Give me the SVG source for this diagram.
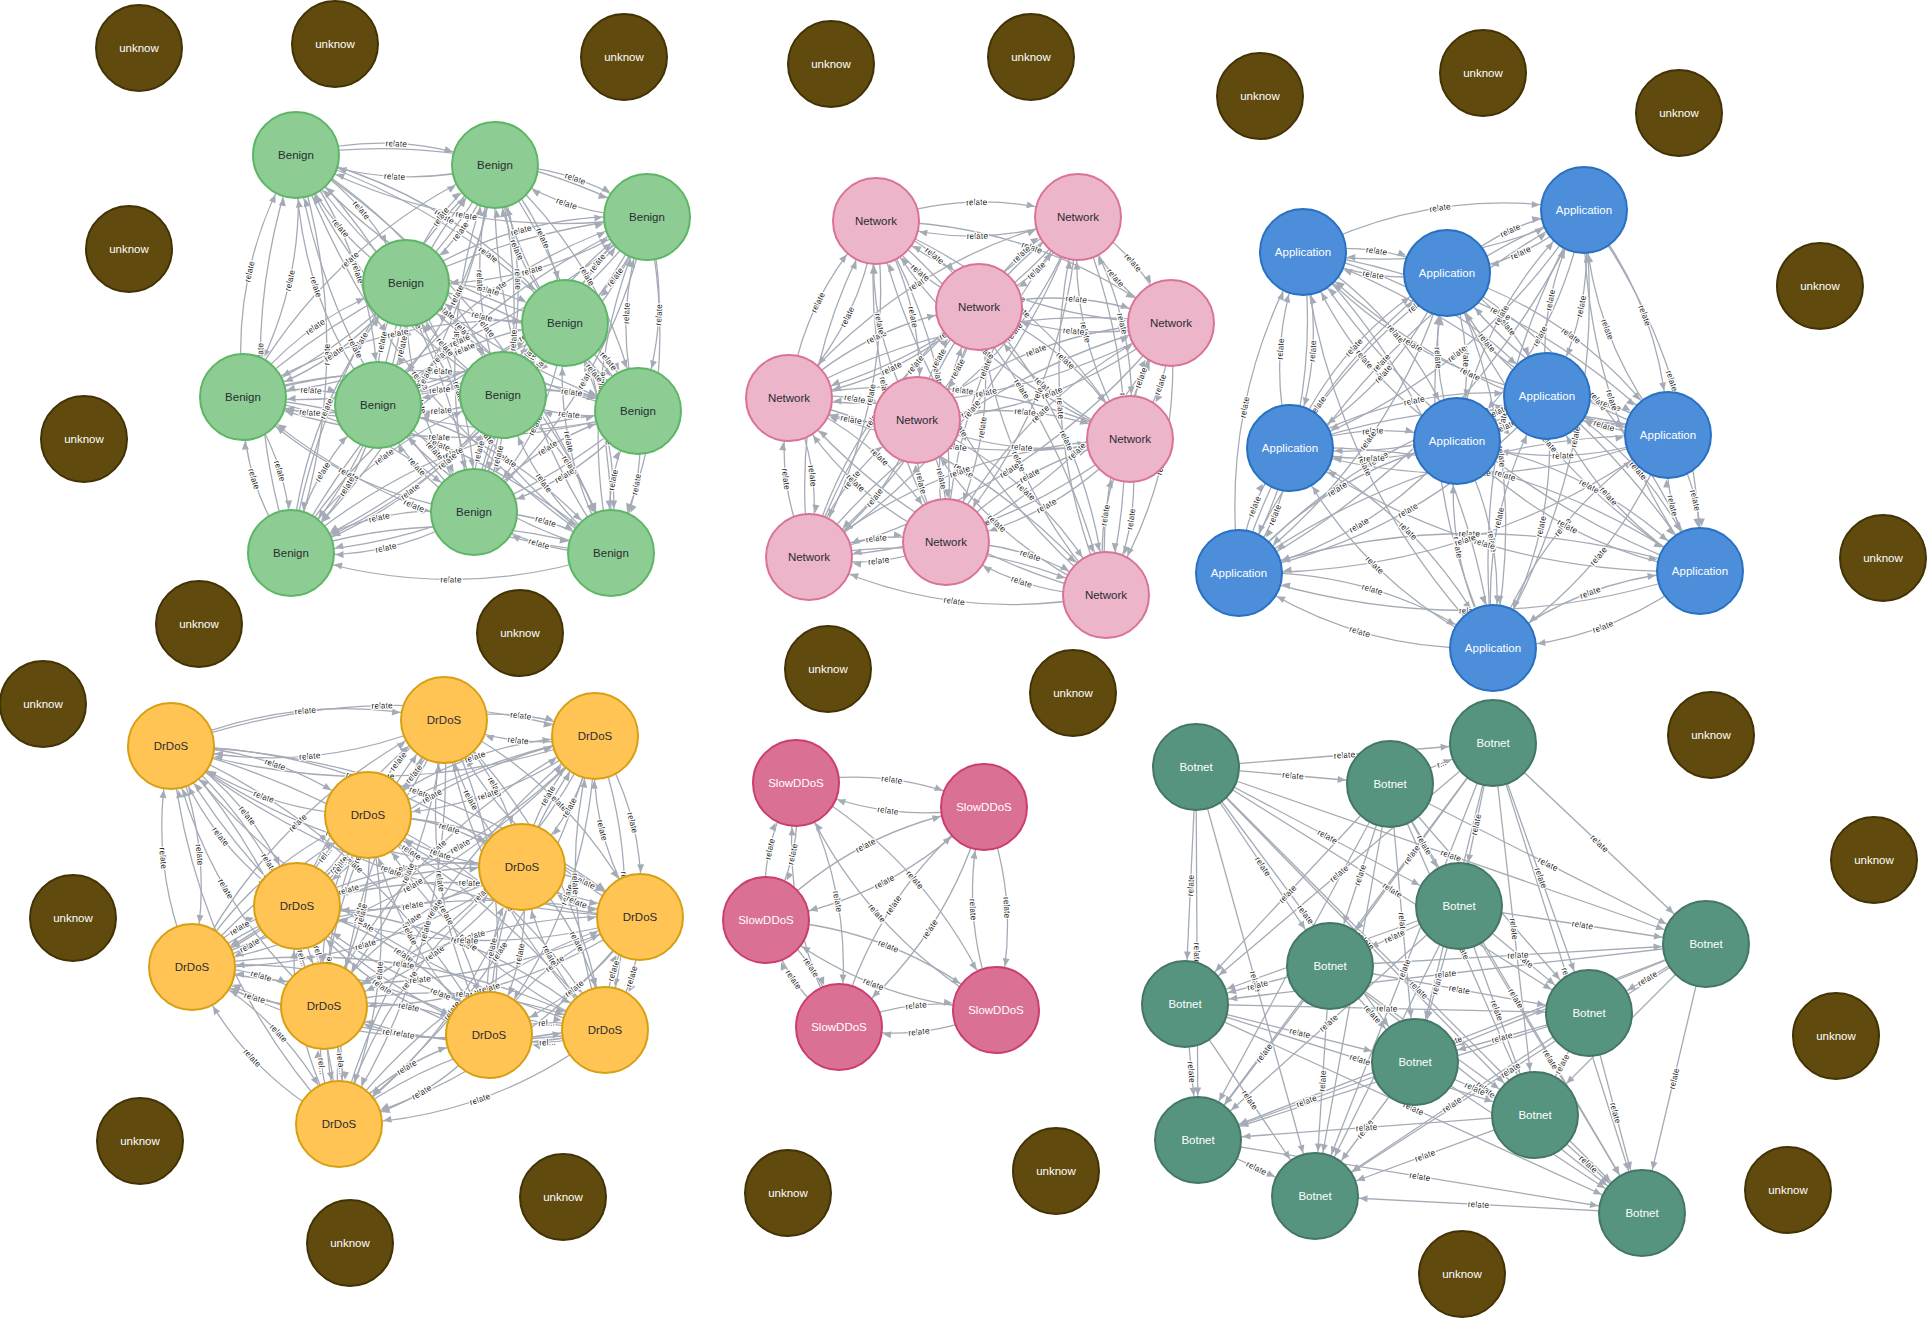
<svg xmlns="http://www.w3.org/2000/svg" width="1927" height="1318" viewBox="0 0 1927 1318">
<defs>
<style>
#edges path{fill:none;stroke:#a5abb6;stroke-width:1.3}
.ce{marker-end:url(#me)}
.cs{marker-start:url(#ms)}
.se{marker-end:url(#le)}
.ss{marker-start:url(#ls)}
marker{overflow:visible}
.lb text{font-family:"Liberation Sans",Arial,sans-serif;font-size:8.5px;fill:#222;text-anchor:middle;dominant-baseline:central;stroke:#fff;stroke-width:2.5;paint-order:stroke;stroke-linejoin:round}
.n circle{stroke-width:2}
.n text{font-family:"Liberation Sans",Arial,sans-serif;font-size:11.5px;text-anchor:middle;dominant-baseline:central}
.u circle{fill:#604a0e;stroke:#423204}.u text{fill:#fff}
.g circle{fill:#8dcc93;stroke:#5db665}.g text{fill:#2a2c34}
.k circle{fill:#ecb5c9;stroke:#da7298}.k text{fill:#2a2c34}
.a circle{fill:#4c8eda;stroke:#2870c2}.a text{fill:#fff}
.y circle{fill:#ffc454;stroke:#d7a013}.y text{fill:#2a2c34}
.s circle{fill:#da7194;stroke:#cc3c6c}.s text{fill:#fff}
.t circle{fill:#569480;stroke:#447666}.t text{fill:#fff}
</style>
<marker id="me" markerUnits="userSpaceOnUse" orient="auto" markerWidth="1" markerHeight="1" overflow="visible"><path d="M-44.5 2.7L-52.8 .2L-52 7.2Z" fill="#a5abb6"/></marker>
<marker id="ms" markerUnits="userSpaceOnUse" orient="auto" markerWidth="1" markerHeight="1" overflow="visible"><path d="M44.5 -2.7L52.8 -.2L52 -7.2Z" fill="#a5abb6"/></marker>
<marker id="le" markerUnits="userSpaceOnUse" orient="auto" markerWidth="1" markerHeight="1" overflow="visible"><path d="M-44.5 0L-52.5 -3.5L-52.5 3.5Z" fill="#a5abb6"/></marker>
<marker id="ls" markerUnits="userSpaceOnUse" orient="auto" markerWidth="1" markerHeight="1" overflow="visible"><path d="M44.5 0L52.5 -3.5L52.5 3.5Z" fill="#a5abb6"/></marker>
</defs>
<rect width="1927" height="1318" fill="#fff"/>
<g id="edges">
<g class="ce">
<path id="bu1" d="M296 155Q397 127 495 165"/>
<path id="bu2" d="M296 155Q482 128 647 217"/>
<path id="bu3" d="M296 155Q372 201 406 283"/>
<path id="bu4" d="M296 155Q459 194 565 323"/>
<path id="bu5" d="M243 397Q229 267 296 155"/>
<path id="bu6" d="M296 155Q379 266 378 405"/>
<path id="bu7" d="M296 155Q440 241 503 395"/>
<path id="bu8" d="M296 155Q510 226 638 411"/>
<path id="bu9" d="M296 155Q445 304 474 512"/>
<path id="bu10" d="M291 553Q227 353 296 155"/>
<path id="bu11" d="M296 155Q520 302 611 553"/>
<path id="bu12" d="M495 165Q580 166 647 217"/>
<path id="bu13" d="M406 283Q431 209 495 165"/>
<path id="bu14" d="M495 165Q556 232 565 323"/>
<path id="bu15" d="M243 397Q330 239 495 165"/>
<path id="bu16" d="M378 405Q397 266 495 165"/>
<path id="bu17" d="M495 165Q537 279 503 395"/>
<path id="bu18" d="M495 165Q608 264 638 411"/>
<path id="bu19" d="M474 512Q427 335 495 165"/>
<path id="bu20" d="M291 553Q328 325 495 165"/>
<path id="bu21" d="M495 165Q618 340 611 553"/>
<path id="bu22" d="M406 283Q516 210 647 217"/>
<path id="bu23" d="M565 323Q588 256 647 217"/>
<path id="bu24" d="M243 397Q415 240 647 217"/>
<path id="bu25" d="M378 405Q481 266 647 217"/>
<path id="bu26" d="M503 395Q545 282 647 217"/>
<path id="bu27" d="M638 411Q610 313 647 217"/>
<path id="bu28" d="M474 512Q511 336 647 217"/>
<path id="bu29" d="M291 553Q413 326 647 217"/>
<path id="bu30" d="M611 553Q573 379 647 217"/>
<path id="bu31" d="M406 283Q492 277 565 323"/>
<path id="bu32" d="M243 397Q306 313 406 283"/>
<path id="bu33" d="M378 405Q372 339 406 283"/>
<path id="bu34" d="M406 283Q473 323 503 395"/>
<path id="bu35" d="M406 283Q543 308 638 411"/>
<path id="bu36" d="M406 283Q478 386 474 512"/>
<path id="bu37" d="M291 553Q304 399 406 283"/>
<path id="bu38" d="M406 283Q554 384 611 553"/>
<path id="bu39" d="M243 397Q392 306 565 323"/>
<path id="bu40" d="M378 405Q458 333 565 323"/>
<path id="bu41" d="M503 395Q522 349 565 323"/>
<path id="bu42" d="M565 323Q616 355 638 411"/>
<path id="bu43" d="M474 512Q488 402 565 323"/>
<path id="bu44" d="M291 553Q390 392 565 323"/>
<path id="bu45" d="M565 323Q626 430 611 553"/>
<path id="bu46" d="M243 397Q312 379 378 405"/>
<path id="bu47" d="M243 397Q373 353 503 395"/>
<path id="bu48" d="M243 397Q443 338 638 411"/>
<path id="bu49" d="M243 397Q378 416 474 512"/>
<path id="bu50" d="M243 397Q293 467 291 553"/>
<path id="bu51" d="M243 397Q453 414 611 553"/>
<path id="bu52" d="M378 405Q439 379 503 395"/>
<path id="bu53" d="M378 405Q509 365 638 411"/>
<path id="bu54" d="M378 405Q444 443 474 512"/>
<path id="bu55" d="M291 553Q310 465 378 405"/>
<path id="bu56" d="M378 405Q519 440 611 553"/>
<path id="bu57" d="M503 395Q573 381 638 411"/>
<path id="bu58" d="M474 512Q469 449 503 395"/>
<path id="bu59" d="M291 553Q371 439 503 395"/>
<path id="bu60" d="M503 395Q583 456 611 553"/>
<path id="bu61" d="M474 512Q539 434 638 411"/>
<path id="bu62" d="M291 553Q441 424 638 411"/>
<path id="bu63" d="M611 553Q601 478 638 411"/>
<path id="bu64" d="M291 553Q376 502 474 512"/>
<path id="bu65" d="M474 512Q549 510 611 553"/>
<path id="bu66" d="M291 553Q451 500 611 553"/>
<path id="nu1" d="M876 221Q976 185 1078 217"/>
<path id="nu2" d="M876 221Q942 247 979 307"/>
<path id="nu3" d="M876 221Q1041 223 1171 323"/>
<path id="nu4" d="M789 398Q803 295 876 221"/>
<path id="nu5" d="M876 221Q930 314 917 420"/>
<path id="nu6" d="M876 221Q1039 288 1130 439"/>
<path id="nu7" d="M809 557Q787 378 876 221"/>
<path id="nu8" d="M876 221Q965 370 946 542"/>
<path id="nu9" d="M876 221Q1053 370 1106 595"/>
<path id="nu10" d="M979 307Q1014 246 1078 217"/>
<path id="nu11" d="M1078 217Q1142 255 1171 323"/>
<path id="nu12" d="M789 398Q903 259 1078 217"/>
<path id="nu13" d="M917 420Q964 292 1078 217"/>
<path id="nu14" d="M1078 217Q1141 319 1130 439"/>
<path id="nu15" d="M809 557Q887 342 1078 217"/>
<path id="nu16" d="M946 542Q958 358 1078 217"/>
<path id="nu17" d="M1078 217Q1155 401 1106 595"/>
<path id="nu18" d="M979 307Q1078 283 1171 323"/>
<path id="nu19" d="M789 398Q869 321 979 307"/>
<path id="nu20" d="M917 420Q929 353 979 307"/>
<path id="nu21" d="M979 307Q1077 348 1130 439"/>
<path id="nu22" d="M809 557Q852 404 979 307"/>
<path id="nu23" d="M946 542Q923 419 979 307"/>
<path id="nu24" d="M979 307Q1091 430 1106 595"/>
<path id="nu25" d="M789 398Q968 297 1171 323"/>
<path id="nu26" d="M917 420Q1028 329 1171 323"/>
<path id="nu27" d="M1130 439Q1131 374 1171 323"/>
<path id="nu28" d="M809 557Q951 380 1171 323"/>
<path id="nu29" d="M946 542Q1022 395 1171 323"/>
<path id="nu30" d="M1106 595Q1093 448 1171 323"/>
<path id="nu31" d="M789 398Q857 388 917 420"/>
<path id="nu32" d="M789 398Q966 362 1130 439"/>
<path id="nu33" d="M789 398Q826 474 809 557"/>
<path id="nu34" d="M789 398Q892 444 946 542"/>
<path id="nu35" d="M789 398Q980 444 1106 595"/>
<path id="nu36" d="M917 420Q1027 394 1130 439"/>
<path id="nu37" d="M809 557Q840 471 917 420"/>
<path id="nu38" d="M917 420Q952 476 946 542"/>
<path id="nu39" d="M917 420Q1041 476 1106 595"/>
<path id="nu40" d="M809 557Q950 445 1130 439"/>
<path id="nu41" d="M946 542Q1021 460 1130 439"/>
<path id="nu42" d="M1106 595Q1092 513 1130 439"/>
<path id="nu43" d="M809 557Q875 527 946 542"/>
<path id="nu44" d="M809 557Q964 527 1106 595"/>
<path id="nu45" d="M946 542Q1035 542 1106 595"/>
<path id="au1" d="M1303 252Q1379 239 1447 273"/>
<path id="au2" d="M1303 252Q1437 184 1584 210"/>
<path id="au3" d="M1303 252Q1449 283 1547 396"/>
<path id="au4" d="M1290 448Q1264 348 1303 252"/>
<path id="au5" d="M1303 252Q1412 321 1457 441"/>
<path id="au6" d="M1303 252Q1516 283 1668 435"/>
<path id="au7" d="M1239 573Q1218 402 1303 252"/>
<path id="au8" d="M1303 252Q1555 345 1700 571"/>
<path id="au9" d="M1303 252Q1464 418 1493 648"/>
<path id="au10" d="M1447 273Q1505 219 1584 210"/>
<path id="au11" d="M1447 273Q1518 318 1547 396"/>
<path id="au12" d="M1290 448Q1339 334 1447 273"/>
<path id="au13" d="M1447 273Q1480 355 1457 441"/>
<path id="au14" d="M1447 273Q1585 317 1668 435"/>
<path id="au15" d="M1239 573Q1293 388 1447 273"/>
<path id="au16" d="M1447 273Q1623 380 1700 571"/>
<path id="au17" d="M1447 273Q1533 453 1493 648"/>
<path id="au18" d="M1547 396Q1535 297 1584 210"/>
<path id="au19" d="M1290 448Q1397 280 1584 210"/>
<path id="au20" d="M1457 441Q1482 304 1584 210"/>
<path id="au21" d="M1584 210Q1664 309 1668 435"/>
<path id="au22" d="M1239 573Q1351 334 1584 210"/>
<path id="au23" d="M1584 210Q1702 371 1700 571"/>
<path id="au24" d="M1493 648Q1466 414 1584 210"/>
<path id="au25" d="M1290 448Q1410 379 1547 396"/>
<path id="au26" d="M1457 441Q1495 404 1547 396"/>
<path id="au27" d="M1547 396Q1614 395 1668 435"/>
<path id="au28" d="M1239 573Q1364 433 1547 396"/>
<path id="au29" d="M1547 396Q1653 458 1700 571"/>
<path id="au30" d="M1493 648Q1478 513 1547 396"/>
<path id="au31" d="M1290 448Q1372 417 1457 441"/>
<path id="au32" d="M1290 448Q1477 379 1668 435"/>
<path id="au33" d="M1239 573Q1244 502 1290 448"/>
<path id="au34" d="M1290 448Q1516 441 1700 571"/>
<path id="au35" d="M1290 448Q1425 514 1493 648"/>
<path id="au36" d="M1457 441Q1562 403 1668 435"/>
<path id="au37" d="M1239 573Q1326 471 1457 441"/>
<path id="au38" d="M1457 441Q1600 466 1700 571"/>
<path id="au39" d="M1457 441Q1510 539 1493 648"/>
<path id="au40" d="M1239 573Q1431 433 1668 435"/>
<path id="au41" d="M1668 435Q1707 498 1700 571"/>
<path id="au42" d="M1493 648Q1545 512 1668 435"/>
<path id="au43" d="M1239 573Q1469 495 1700 571"/>
<path id="au44" d="M1239 573Q1379 568 1493 648"/>
<path id="au45" d="M1493 648Q1584 575 1700 571"/>
<path id="du1" d="M171 746Q303 688 444 720"/>
<path id="du2" d="M171 746Q381 670 595 736"/>
<path id="du3" d="M171 746Q281 748 368 815"/>
<path id="du4" d="M171 746Q367 748 522 867"/>
<path id="du5" d="M171 746Q261 805 297 906"/>
<path id="du6" d="M171 746Q434 753 640 917"/>
<path id="du7" d="M171 746Q218 853 192 967"/>
<path id="du8" d="M171 746Q291 851 324 1006"/>
<path id="du9" d="M171 746Q378 838 489 1035"/>
<path id="du10" d="M171 746Q435 816 605 1030"/>
<path id="du11" d="M171 746Q318 907 339 1124"/>
<path id="du12" d="M444 720Q522 703 595 736"/>
<path id="du13" d="M368 815Q390 755 444 720"/>
<path id="du14" d="M444 720Q508 781 522 867"/>
<path id="du15" d="M297 906Q340 789 444 720"/>
<path id="du16" d="M444 720Q575 786 640 917"/>
<path id="du17" d="M192 967Q277 802 444 720"/>
<path id="du18" d="M324 1006Q336 843 444 720"/>
<path id="du19" d="M444 720Q519 870 489 1035"/>
<path id="du20" d="M444 720Q576 848 605 1030"/>
<path id="du21" d="M339 1124Q324 905 444 720"/>
<path id="du22" d="M368 815Q468 738 595 736"/>
<path id="du23" d="M522 867Q537 789 595 736"/>
<path id="du24" d="M297 906Q418 771 595 736"/>
<path id="du25" d="M595 736Q648 819 640 917"/>
<path id="du26" d="M192 967Q355 784 595 736"/>
<path id="du27" d="M324 1006Q415 826 595 736"/>
<path id="du28" d="M489 1035Q492 868 595 736"/>
<path id="du29" d="M595 736Q649 881 605 1030"/>
<path id="du30" d="M339 1124Q402 887 595 736"/>
<path id="du31" d="M368 815Q454 815 522 867"/>
<path id="du32" d="M297 906Q317 849 368 815"/>
<path id="du33" d="M368 815Q521 821 640 917"/>
<path id="du34" d="M192 967Q255 862 368 815"/>
<path id="du35" d="M324 1006Q314 903 368 815"/>
<path id="du36" d="M368 815Q465 905 489 1035"/>
<path id="du37" d="M368 815Q522 883 605 1030"/>
<path id="du38" d="M339 1124Q302 965 368 815"/>
<path id="du39" d="M297 906Q403 849 522 867"/>
<path id="du40" d="M522 867Q589 872 640 917"/>
<path id="du41" d="M192 967Q340 862 522 867"/>
<path id="du42" d="M324 1006Q400 904 522 867"/>
<path id="du43" d="M489 1035Q478 946 522 867"/>
<path id="du44" d="M522 867Q591 935 605 1030"/>
<path id="du45" d="M339 1124Q388 965 522 867"/>
<path id="du46" d="M297 906Q470 854 640 917"/>
<path id="du47" d="M192 967Q234 919 297 906"/>
<path id="du48" d="M297 906Q327 952 324 1006"/>
<path id="du49" d="M297 906Q415 939 489 1035"/>
<path id="du50" d="M297 906Q472 917 605 1030"/>
<path id="du51" d="M297 906Q354 1008 339 1124"/>
<path id="du52" d="M192 967Q408 867 640 917"/>
<path id="du53" d="M324 1006Q467 909 640 917"/>
<path id="du54" d="M489 1035Q545 951 640 917"/>
<path id="du55" d="M605 1030Q604 968 640 917"/>
<path id="du56" d="M339 1124Q455 970 640 917"/>
<path id="du57" d="M192 967Q265 965 324 1006"/>
<path id="du58" d="M192 967Q352 952 489 1035"/>
<path id="du59" d="M192 967Q409 930 605 1030"/>
<path id="du60" d="M192 967Q292 1021 339 1124"/>
<path id="du61" d="M324 1006Q411 993 489 1035"/>
<path id="du62" d="M324 1006Q469 971 605 1030"/>
<path id="du63" d="M324 1006Q351 1063 339 1124"/>
<path id="du64" d="M489 1035Q546 1013 605 1030"/>
<path id="du65" d="M339 1124Q399 1055 489 1035"/>
<path id="du66" d="M339 1124Q456 1033 605 1030"/>
<path id="su1" d="M796 783Q894 764 984 807"/>
<path id="su2" d="M766 920Q758 847 796 783"/>
<path id="su3" d="M796 783Q858 898 839 1027"/>
<path id="su4" d="M796 783Q934 863 996 1010"/>
<path id="su5" d="M766 920Q856 827 984 807"/>
<path id="su6" d="M839 1027Q875 893 984 807"/>
<path id="su7" d="M984 807Q1024 907 996 1010"/>
<path id="su8" d="M766 920Q820 961 839 1027"/>
<path id="su9" d="M766 920Q896 927 996 1010"/>
<path id="su10" d="M839 1027Q915 992 996 1010"/>
</g>
<g class="cs">
<path id="bw1" d="M296 155Q394 193 495 165"/>
<path id="bw2" d="M296 155Q461 245 647 217"/>
<path id="bw3" d="M296 155Q330 237 406 283"/>
<path id="bw4" d="M296 155Q403 284 565 323"/>
<path id="bw5" d="M243 397Q310 285 296 155"/>
<path id="bw6" d="M296 155Q295 294 378 405"/>
<path id="bw7" d="M296 155Q360 310 503 395"/>
<path id="bw8" d="M296 155Q424 340 638 411"/>
<path id="bw9" d="M296 155Q326 363 474 512"/>
<path id="bw10" d="M291 553Q360 355 296 155"/>
<path id="bw11" d="M296 155Q387 407 611 553"/>
<path id="bw12" d="M495 165Q562 216 647 217"/>
<path id="bw13" d="M406 283Q470 239 495 165"/>
<path id="bw14" d="M495 165Q504 256 565 323"/>
<path id="bw15" d="M243 397Q408 323 495 165"/>
<path id="bw16" d="M378 405Q477 305 495 165"/>
<path id="bw17" d="M495 165Q461 281 503 395"/>
<path id="bw18" d="M495 165Q526 312 638 411"/>
<path id="bw19" d="M474 512Q542 342 495 165"/>
<path id="bw20" d="M291 553Q458 393 495 165"/>
<path id="bw21" d="M495 165Q488 378 611 553"/>
<path id="bw22" d="M406 283Q538 290 647 217"/>
<path id="bw23" d="M565 323Q624 284 647 217"/>
<path id="bw24" d="M243 397Q475 374 647 217"/>
<path id="bw25" d="M378 405Q544 356 647 217"/>
<path id="bw26" d="M503 395Q605 330 647 217"/>
<path id="bw27" d="M638 411Q675 316 647 217"/>
<path id="bw28" d="M474 512Q610 393 647 217"/>
<path id="bw29" d="M291 553Q525 444 647 217"/>
<path id="bw30" d="M611 553Q685 391 647 217"/>
<path id="bw31" d="M406 283Q479 330 565 323"/>
<path id="bw32" d="M243 397Q344 367 406 283"/>
<path id="bw33" d="M378 405Q412 349 406 283"/>
<path id="bw34" d="M406 283Q436 355 503 395"/>
<path id="bw35" d="M406 283Q501 386 638 411"/>
<path id="bw36" d="M406 283Q402 409 474 512"/>
<path id="bw37" d="M291 553Q394 437 406 283"/>
<path id="bw38" d="M406 283Q464 452 611 553"/>
<path id="bw39" d="M243 397Q416 414 565 323"/>
<path id="bw40" d="M378 405Q485 395 565 323"/>
<path id="bw41" d="M503 395Q546 369 565 323"/>
<path id="bw42" d="M565 323Q587 379 638 411"/>
<path id="bw43" d="M474 512Q551 433 565 323"/>
<path id="bw44" d="M291 553Q466 484 565 323"/>
<path id="bw45" d="M565 323Q550 446 611 553"/>
<path id="bw46" d="M243 397Q309 424 378 405"/>
<path id="bw47" d="M243 397Q373 439 503 395"/>
<path id="bw48" d="M243 397Q438 470 638 411"/>
<path id="bw49" d="M243 397Q339 493 474 512"/>
<path id="bw50" d="M243 397Q241 483 291 553"/>
<path id="bw51" d="M243 397Q401 536 611 553"/>
<path id="bw52" d="M378 405Q442 421 503 395"/>
<path id="bw53" d="M378 405Q507 451 638 411"/>
<path id="bw54" d="M378 405Q408 475 474 512"/>
<path id="bw55" d="M291 553Q359 494 378 405"/>
<path id="bw56" d="M378 405Q470 518 611 553"/>
<path id="bw57" d="M503 395Q568 426 638 411"/>
<path id="bw58" d="M474 512Q508 458 503 395"/>
<path id="bw59" d="M291 553Q423 509 503 395"/>
<path id="bw60" d="M503 395Q531 492 611 553"/>
<path id="bw61" d="M474 512Q573 489 638 411"/>
<path id="bw62" d="M291 553Q488 540 638 411"/>
<path id="bw63" d="M611 553Q648 487 638 411"/>
<path id="bw64" d="M291 553Q389 563 474 512"/>
<path id="bw65" d="M474 512Q536 555 611 553"/>
<path id="bw66" d="M291 553Q451 606 611 553"/>
<path id="nw1" d="M876 221Q978 253 1078 217"/>
<path id="nw2" d="M876 221Q913 281 979 307"/>
<path id="nw3" d="M876 221Q1007 321 1171 323"/>
<path id="nw4" d="M789 398Q862 324 876 221"/>
<path id="nw5" d="M876 221Q863 327 917 420"/>
<path id="nw6" d="M876 221Q967 372 1130 439"/>
<path id="nw7" d="M809 557Q899 400 876 221"/>
<path id="nw8" d="M876 221Q858 393 946 542"/>
<path id="nw9" d="M876 221Q929 446 1106 595"/>
<path id="nw10" d="M979 307Q1044 279 1078 217"/>
<path id="nw11" d="M1078 217Q1107 286 1171 323"/>
<path id="nw12" d="M789 398Q964 356 1078 217"/>
<path id="nw13" d="M917 420Q1031 345 1078 217"/>
<path id="nw14" d="M1078 217Q1067 337 1130 439"/>
<path id="nw15" d="M809 557Q1000 432 1078 217"/>
<path id="nw16" d="M946 542Q1066 402 1078 217"/>
<path id="nw17" d="M1078 217Q1029 411 1106 595"/>
<path id="nw18" d="M979 307Q1072 347 1171 323"/>
<path id="nw19" d="M789 398Q899 384 979 307"/>
<path id="nw20" d="M917 420Q967 374 979 307"/>
<path id="nw21" d="M979 307Q1033 398 1130 439"/>
<path id="nw22" d="M809 557Q936 460 979 307"/>
<path id="nw23" d="M946 542Q1002 430 979 307"/>
<path id="nw24" d="M979 307Q995 472 1106 595"/>
<path id="nw25" d="M789 398Q993 424 1171 323"/>
<path id="nw26" d="M917 420Q1060 414 1171 323"/>
<path id="nw27" d="M1130 439Q1170 388 1171 323"/>
<path id="nw28" d="M809 557Q1029 500 1171 323"/>
<path id="nw29" d="M946 542Q1095 470 1171 323"/>
<path id="nw30" d="M1106 595Q1184 470 1171 323"/>
<path id="nw31" d="M789 398Q849 430 917 420"/>
<path id="nw32" d="M789 398Q953 475 1130 439"/>
<path id="nw33" d="M789 398Q773 481 809 557"/>
<path id="nw34" d="M789 398Q844 496 946 542"/>
<path id="nw35" d="M789 398Q915 549 1106 595"/>
<path id="nw36" d="M917 420Q1020 465 1130 439"/>
<path id="nw37" d="M809 557Q886 507 917 420"/>
<path id="nw38" d="M917 420Q911 486 946 542"/>
<path id="nw39" d="M917 420Q982 539 1106 595"/>
<path id="nw40" d="M809 557Q989 552 1130 439"/>
<path id="nw41" d="M946 542Q1055 521 1130 439"/>
<path id="nw42" d="M1106 595Q1144 521 1130 439"/>
<path id="nw43" d="M809 557Q880 572 946 542"/>
<path id="nw44" d="M809 557Q951 626 1106 595"/>
<path id="nw45" d="M946 542Q1017 595 1106 595"/>
<path id="aw1" d="M1303 252Q1372 287 1447 273"/>
<path id="aw2" d="M1303 252Q1451 278 1584 210"/>
<path id="aw3" d="M1303 252Q1401 365 1547 396"/>
<path id="aw4" d="M1290 448Q1329 352 1303 252"/>
<path id="aw5" d="M1303 252Q1349 372 1457 441"/>
<path id="aw6" d="M1303 252Q1455 404 1668 435"/>
<path id="aw7" d="M1239 573Q1325 423 1303 252"/>
<path id="aw8" d="M1303 252Q1448 478 1700 571"/>
<path id="aw9" d="M1303 252Q1332 482 1493 648"/>
<path id="aw10" d="M1447 273Q1526 264 1584 210"/>
<path id="aw11" d="M1447 273Q1477 351 1547 396"/>
<path id="aw12" d="M1290 448Q1398 387 1447 273"/>
<path id="aw13" d="M1447 273Q1424 359 1457 441"/>
<path id="aw14" d="M1447 273Q1531 391 1668 435"/>
<path id="aw15" d="M1239 573Q1393 458 1447 273"/>
<path id="aw16" d="M1447 273Q1524 464 1700 571"/>
<path id="aw17" d="M1447 273Q1408 468 1493 648"/>
<path id="aw18" d="M1547 396Q1597 309 1584 210"/>
<path id="aw19" d="M1290 448Q1477 378 1584 210"/>
<path id="aw20" d="M1457 441Q1559 347 1584 210"/>
<path id="aw21" d="M1584 210Q1589 337 1668 435"/>
<path id="aw22" d="M1239 573Q1472 449 1584 210"/>
<path id="aw23" d="M1584 210Q1582 410 1700 571"/>
<path id="aw24" d="M1493 648Q1612 444 1584 210"/>
<path id="aw25" d="M1290 448Q1427 465 1547 396"/>
<path id="aw26" d="M1457 441Q1510 434 1547 396"/>
<path id="aw27" d="M1547 396Q1601 436 1668 435"/>
<path id="aw28" d="M1239 573Q1423 536 1547 396"/>
<path id="aw29" d="M1547 396Q1594 509 1700 571"/>
<path id="aw30" d="M1493 648Q1562 531 1547 396"/>
<path id="aw31" d="M1290 448Q1375 472 1457 441"/>
<path id="aw32" d="M1290 448Q1481 505 1668 435"/>
<path id="aw33" d="M1239 573Q1285 519 1290 448"/>
<path id="aw34" d="M1290 448Q1475 578 1700 571"/>
<path id="aw35" d="M1290 448Q1358 582 1493 648"/>
<path id="aw36" d="M1457 441Q1564 473 1668 435"/>
<path id="aw37" d="M1239 573Q1370 543 1457 441"/>
<path id="aw38" d="M1457 441Q1557 547 1700 571"/>
<path id="aw39" d="M1457 441Q1441 551 1493 648"/>
<path id="aw40" d="M1239 573Q1477 576 1668 435"/>
<path id="aw41" d="M1668 435Q1661 508 1700 571"/>
<path id="aw42" d="M1493 648Q1616 571 1668 435"/>
<path id="aw43" d="M1239 573Q1470 649 1700 571"/>
<path id="aw44" d="M1239 573Q1354 653 1493 648"/>
<path id="aw45" d="M1493 648Q1609 644 1700 571"/>
<path id="dw1" d="M171 746Q312 779 444 720"/>
<path id="dw2" d="M171 746Q385 812 595 736"/>
<path id="dw3" d="M171 746Q258 813 368 815"/>
<path id="dw4" d="M171 746Q326 865 522 867"/>
<path id="dw5" d="M171 746Q207 847 297 906"/>
<path id="dw6" d="M171 746Q377 910 640 917"/>
<path id="dw7" d="M171 746Q145 860 192 967"/>
<path id="dw8" d="M171 746Q204 902 324 1006"/>
<path id="dw9" d="M171 746Q282 944 489 1035"/>
<path id="dw10" d="M171 746Q341 960 605 1030"/>
<path id="dw11" d="M171 746Q192 963 339 1124"/>
<path id="dw12" d="M444 720Q517 753 595 736"/>
<path id="dw13" d="M368 815Q422 780 444 720"/>
<path id="dw14" d="M444 720Q459 807 522 867"/>
<path id="dw15" d="M297 906Q402 838 444 720"/>
<path id="dw16" d="M444 720Q509 851 640 917"/>
<path id="dw17" d="M192 967Q359 886 444 720"/>
<path id="dw18" d="M324 1006Q432 883 444 720"/>
<path id="dw19" d="M444 720Q414 885 489 1035"/>
<path id="dw20" d="M444 720Q473 902 605 1030"/>
<path id="dw21" d="M339 1124Q459 940 444 720"/>
<path id="dw22" d="M368 815Q495 813 595 736"/>
<path id="dw23" d="M522 867Q580 814 595 736"/>
<path id="dw24" d="M297 906Q474 871 595 736"/>
<path id="dw25" d="M595 736Q587 834 640 917"/>
<path id="dw26" d="M192 967Q432 919 595 736"/>
<path id="dw27" d="M324 1006Q505 916 595 736"/>
<path id="dw28" d="M489 1035Q592 903 595 736"/>
<path id="dw29" d="M595 736Q551 885 605 1030"/>
<path id="dw30" d="M339 1124Q532 973 595 736"/>
<path id="dw31" d="M368 815Q436 867 522 867"/>
<path id="dw32" d="M297 906Q348 872 368 815"/>
<path id="dw33" d="M368 815Q487 911 640 917"/>
<path id="dw34" d="M192 967Q305 920 368 815"/>
<path id="dw35" d="M324 1006Q378 918 368 815"/>
<path id="dw36" d="M368 815Q392 945 489 1035"/>
<path id="dw37" d="M368 815Q451 962 605 1030"/>
<path id="dw38" d="M339 1124Q405 974 368 815"/>
<path id="dw39" d="M297 906Q416 924 522 867"/>
<path id="dw40" d="M522 867Q573 912 640 917"/>
<path id="dw41" d="M192 967Q374 972 522 867"/>
<path id="dw42" d="M324 1006Q446 970 522 867"/>
<path id="dw43" d="M489 1035Q534 957 522 867"/>
<path id="dw44" d="M522 867Q536 962 605 1030"/>
<path id="dw45" d="M339 1124Q473 1026 522 867"/>
<path id="dw46" d="M297 906Q467 969 640 917"/>
<path id="dw47" d="M192 967Q255 954 297 906"/>
<path id="dw48" d="M297 906Q294 961 324 1006"/>
<path id="dw49" d="M297 906Q372 1003 489 1035"/>
<path id="dw50" d="M297 906Q430 1019 605 1030"/>
<path id="dw51" d="M297 906Q282 1022 339 1124"/>
<path id="dw52" d="M192 967Q424 1017 640 917"/>
<path id="dw53" d="M324 1006Q497 1014 640 917"/>
<path id="dw54" d="M489 1035Q584 1001 640 917"/>
<path id="dw55" d="M605 1030Q641 979 640 917"/>
<path id="dw56" d="M339 1124Q524 1071 640 917"/>
<path id="dw57" d="M192 967Q252 1009 324 1006"/>
<path id="dw58" d="M192 967Q329 1051 489 1035"/>
<path id="dw59" d="M192 967Q388 1067 605 1030"/>
<path id="dw60" d="M192 967Q239 1070 339 1124"/>
<path id="dw61" d="M324 1006Q402 1048 489 1035"/>
<path id="dw62" d="M324 1006Q461 1065 605 1030"/>
<path id="dw63" d="M324 1006Q312 1068 339 1124"/>
<path id="dw64" d="M489 1035Q548 1052 605 1030"/>
<path id="dw65" d="M339 1124Q429 1105 489 1035"/>
<path id="dw66" d="M339 1124Q488 1121 605 1030"/>
<path id="sw1" d="M796 783Q886 826 984 807"/>
<path id="sw2" d="M766 920Q804 857 796 783"/>
<path id="sw3" d="M796 783Q777 912 839 1027"/>
<path id="sw4" d="M796 783Q858 930 996 1010"/>
<path id="sw5" d="M766 920Q894 900 984 807"/>
<path id="sw6" d="M839 1027Q948 941 984 807"/>
<path id="sw7" d="M984 807Q956 911 996 1010"/>
<path id="sw8" d="M766 920Q785 986 839 1027"/>
<path id="sw9" d="M766 920Q866 1003 996 1010"/>
<path id="sw10" d="M839 1027Q920 1045 996 1010"/>
</g>
<g class="se">
<path id="t1" d="M1196 767L1390 784"/>
<path id="t2" d="M1196 767L1493 743"/>
<path id="t3" d="M1196 767L1459 906"/>
<path id="t4" d="M1196 767L1330 966"/>
<path id="t5" d="M1196 767L1706 944"/>
<path id="t7" d="M1196 767L1589 1013"/>
<path id="t8" d="M1196 767L1415 1062"/>
<path id="t9" d="M1196 767L1535 1115"/>
<path id="t10" d="M1196 767L1198 1140"/>
<path id="t11" d="M1196 767L1315 1196"/>
<path id="t12" d="M1196 767L1642 1213"/>
<path id="t13" d="M1390 784L1493 743"/>
<path id="t14" d="M1390 784L1459 906"/>
<path id="t16" d="M1390 784L1706 944"/>
<path id="t18" d="M1390 784L1589 1013"/>
<path id="t19" d="M1390 784L1415 1062"/>
<path id="t20" d="M1390 784L1535 1115"/>
<path id="t23" d="M1390 784L1642 1213"/>
<path id="t26" d="M1493 743L1706 944"/>
<path id="t28" d="M1493 743L1589 1013"/>
<path id="t30" d="M1493 743L1535 1115"/>
<path id="t33" d="M1493 743L1642 1213"/>
<path id="t35" d="M1459 906L1706 944"/>
<path id="t37" d="M1459 906L1589 1013"/>
<path id="t39" d="M1459 906L1535 1115"/>
<path id="t42" d="M1459 906L1642 1213"/>
<path id="t43" d="M1330 966L1706 944"/>
<path id="t45" d="M1330 966L1589 1013"/>
<path id="t46" d="M1330 966L1415 1062"/>
<path id="t47" d="M1330 966L1535 1115"/>
<path id="t50" d="M1330 966L1642 1213"/>
<path id="t58" d="M1185 1004L1589 1013"/>
<path id="t59" d="M1185 1004L1415 1062"/>
<path id="t60" d="M1185 1004L1535 1115"/>
<path id="t61" d="M1185 1004L1198 1140"/>
<path id="t62" d="M1185 1004L1315 1196"/>
<path id="t63" d="M1185 1004L1642 1213"/>
<path id="t68" d="M1589 1013L1642 1213"/>
<path id="t69" d="M1415 1062L1535 1115"/>
<path id="t72" d="M1415 1062L1642 1213"/>
<path id="t75" d="M1535 1115L1642 1213"/>
<path id="t76" d="M1198 1140L1315 1196"/>
<path id="t77" d="M1198 1140L1642 1213"/>
</g>
<g class="ss">
<path id="t6" d="M1185 1004L1196 767"/>
<path id="t15" d="M1330 966L1390 784"/>
<path id="t17" d="M1185 1004L1390 784"/>
<path id="t21" d="M1198 1140L1390 784"/>
<path id="t22" d="M1315 1196L1390 784"/>
<path id="t24" d="M1459 906L1493 743"/>
<path id="t25" d="M1330 966L1493 743"/>
<path id="t27" d="M1185 1004L1493 743"/>
<path id="t29" d="M1415 1062L1493 743"/>
<path id="t31" d="M1198 1140L1493 743"/>
<path id="t32" d="M1315 1196L1493 743"/>
<path id="t34" d="M1330 966L1459 906"/>
<path id="t36" d="M1185 1004L1459 906"/>
<path id="t38" d="M1415 1062L1459 906"/>
<path id="t40" d="M1198 1140L1459 906"/>
<path id="t41" d="M1315 1196L1459 906"/>
<path id="t44" d="M1185 1004L1330 966"/>
<path id="t48" d="M1198 1140L1330 966"/>
<path id="t49" d="M1315 1196L1330 966"/>
<path id="t51" d="M1185 1004L1706 944"/>
<path id="t52" d="M1589 1013L1706 944"/>
<path id="t53" d="M1415 1062L1706 944"/>
<path id="t54" d="M1535 1115L1706 944"/>
<path id="t55" d="M1198 1140L1706 944"/>
<path id="t56" d="M1315 1196L1706 944"/>
<path id="t57" d="M1642 1213L1706 944"/>
<path id="t64" d="M1415 1062L1589 1013"/>
<path id="t65" d="M1535 1115L1589 1013"/>
<path id="t66" d="M1198 1140L1589 1013"/>
<path id="t67" d="M1315 1196L1589 1013"/>
<path id="t70" d="M1198 1140L1415 1062"/>
<path id="t71" d="M1315 1196L1415 1062"/>
<path id="t73" d="M1198 1140L1535 1115"/>
<path id="t74" d="M1315 1196L1535 1115"/>
<path id="t78" d="M1315 1196L1642 1213"/>
</g>
<g class="lb">
<text><textPath href="#bu1" startOffset="50%">relate</textPath></text>
<text><textPath href="#bu2" startOffset="50%">relate</textPath></text>
<text><textPath href="#bu3" startOffset="50%">relate</textPath></text>
<text><textPath href="#bu4" startOffset="50%">relate</textPath></text>
<text><textPath href="#bu5" startOffset="50%">relate</textPath></text>
<text><textPath href="#bu6" startOffset="50%">relate</textPath></text>
<text><textPath href="#bu7" startOffset="50%">relate</textPath></text>
<text><textPath href="#bu8" startOffset="50%">relate</textPath></text>
<text><textPath href="#bu9" startOffset="50%">relate</textPath></text>
<text><textPath href="#bu10" startOffset="50%">relate</textPath></text>
<text><textPath href="#bu11" startOffset="50%">relate</textPath></text>
<text><textPath href="#bu12" startOffset="50%">relate</textPath></text>
<text><textPath href="#bu13" startOffset="50%">relate</textPath></text>
<text><textPath href="#bu14" startOffset="50%">relate</textPath></text>
<text><textPath href="#bu15" startOffset="50%">relate</textPath></text>
<text><textPath href="#bu16" startOffset="50%">relate</textPath></text>
<text><textPath href="#bu17" startOffset="50%">relate</textPath></text>
<text><textPath href="#bu18" startOffset="50%">relate</textPath></text>
<text><textPath href="#bu19" startOffset="50%">relate</textPath></text>
<text><textPath href="#bu20" startOffset="50%">relate</textPath></text>
<text><textPath href="#bu21" startOffset="50%">relate</textPath></text>
<text><textPath href="#bu22" startOffset="50%">relate</textPath></text>
<text><textPath href="#bu23" startOffset="50%">relate</textPath></text>
<text><textPath href="#bu24" startOffset="50%">relate</textPath></text>
<text><textPath href="#bu25" startOffset="50%">relate</textPath></text>
<text><textPath href="#bu26" startOffset="50%">relate</textPath></text>
<text><textPath href="#bu27" startOffset="50%">relate</textPath></text>
<text><textPath href="#bu28" startOffset="50%">relate</textPath></text>
<text><textPath href="#bu29" startOffset="50%">relate</textPath></text>
<text><textPath href="#bu30" startOffset="50%">relate</textPath></text>
<text><textPath href="#bu31" startOffset="50%">relate</textPath></text>
<text><textPath href="#bu32" startOffset="50%">relate</textPath></text>
<text><textPath href="#bu33" startOffset="50%">relate</textPath></text>
<text><textPath href="#bu34" startOffset="50%">relate</textPath></text>
<text><textPath href="#bu35" startOffset="50%">relate</textPath></text>
<text><textPath href="#bu36" startOffset="50%">relate</textPath></text>
<text><textPath href="#bu37" startOffset="50%">relate</textPath></text>
<text><textPath href="#bu38" startOffset="50%">relate</textPath></text>
<text><textPath href="#bu39" startOffset="50%">relate</textPath></text>
<text><textPath href="#bu40" startOffset="50%">relate</textPath></text>
<text><textPath href="#bu41" startOffset="50%">relate</textPath></text>
<text><textPath href="#bu42" startOffset="50%">relate</textPath></text>
<text><textPath href="#bu43" startOffset="50%">relate</textPath></text>
<text><textPath href="#bu44" startOffset="50%">relate</textPath></text>
<text><textPath href="#bu45" startOffset="50%">relate</textPath></text>
<text><textPath href="#bu46" startOffset="50%">relate</textPath></text>
<text><textPath href="#bu47" startOffset="50%">relate</textPath></text>
<text><textPath href="#bu48" startOffset="50%">relate</textPath></text>
<text><textPath href="#bu49" startOffset="50%">relate</textPath></text>
<text><textPath href="#bu50" startOffset="50%">relate</textPath></text>
<text><textPath href="#bu51" startOffset="50%">relate</textPath></text>
<text><textPath href="#bu52" startOffset="50%">relate</textPath></text>
<text><textPath href="#bu53" startOffset="50%">relate</textPath></text>
<text><textPath href="#bu54" startOffset="50%">relate</textPath></text>
<text><textPath href="#bu55" startOffset="50%">relate</textPath></text>
<text><textPath href="#bu56" startOffset="50%">relate</textPath></text>
<text><textPath href="#bu57" startOffset="50%">relate</textPath></text>
<text><textPath href="#bu58" startOffset="50%">relate</textPath></text>
<text><textPath href="#bu59" startOffset="50%">relate</textPath></text>
<text><textPath href="#bu60" startOffset="50%">relate</textPath></text>
<text><textPath href="#bu61" startOffset="50%">relate</textPath></text>
<text><textPath href="#bu62" startOffset="50%">relate</textPath></text>
<text><textPath href="#bu63" startOffset="50%">relate</textPath></text>
<text><textPath href="#bu64" startOffset="50%">relate</textPath></text>
<text><textPath href="#bu65" startOffset="50%">relate</textPath></text>
<text><textPath href="#bu66" startOffset="50%">relate</textPath></text>
<text><textPath href="#bw1" startOffset="50%">relate</textPath></text>
<text><textPath href="#bw2" startOffset="50%">relate</textPath></text>
<text><textPath href="#bw3" startOffset="50%">relate</textPath></text>
<text><textPath href="#bw4" startOffset="50%">relate</textPath></text>
<text><textPath href="#bw5" startOffset="50%">relate</textPath></text>
<text><textPath href="#bw6" startOffset="50%">relate</textPath></text>
<text><textPath href="#bw7" startOffset="50%">relate</textPath></text>
<text><textPath href="#bw8" startOffset="50%">relate</textPath></text>
<text><textPath href="#bw9" startOffset="50%">relate</textPath></text>
<text><textPath href="#bw10" startOffset="50%">relate</textPath></text>
<text><textPath href="#bw11" startOffset="50%">relate</textPath></text>
<text><textPath href="#bw12" startOffset="50%">relate</textPath></text>
<text><textPath href="#bw13" startOffset="50%">relate</textPath></text>
<text><textPath href="#bw14" startOffset="50%">relate</textPath></text>
<text><textPath href="#bw15" startOffset="50%">relate</textPath></text>
<text><textPath href="#bw16" startOffset="50%">relate</textPath></text>
<text><textPath href="#bw17" startOffset="50%">relate</textPath></text>
<text><textPath href="#bw18" startOffset="50%">relate</textPath></text>
<text><textPath href="#bw19" startOffset="50%">relate</textPath></text>
<text><textPath href="#bw20" startOffset="50%">relate</textPath></text>
<text><textPath href="#bw21" startOffset="50%">relate</textPath></text>
<text><textPath href="#bw22" startOffset="50%">relate</textPath></text>
<text><textPath href="#bw23" startOffset="50%">relate</textPath></text>
<text><textPath href="#bw24" startOffset="50%">relate</textPath></text>
<text><textPath href="#bw25" startOffset="50%">relate</textPath></text>
<text><textPath href="#bw26" startOffset="50%">relate</textPath></text>
<text><textPath href="#bw27" startOffset="50%">relate</textPath></text>
<text><textPath href="#bw28" startOffset="50%">relate</textPath></text>
<text><textPath href="#bw29" startOffset="50%">relate</textPath></text>
<text><textPath href="#bw30" startOffset="50%">relate</textPath></text>
<text><textPath href="#bw31" startOffset="50%">relate</textPath></text>
<text><textPath href="#bw32" startOffset="50%">relate</textPath></text>
<text><textPath href="#bw33" startOffset="50%">relate</textPath></text>
<text><textPath href="#bw34" startOffset="50%">relate</textPath></text>
<text><textPath href="#bw35" startOffset="50%">relate</textPath></text>
<text><textPath href="#bw36" startOffset="50%">relate</textPath></text>
<text><textPath href="#bw37" startOffset="50%">relate</textPath></text>
<text><textPath href="#bw38" startOffset="50%">relate</textPath></text>
<text><textPath href="#bw39" startOffset="50%">relate</textPath></text>
<text><textPath href="#bw40" startOffset="50%">relate</textPath></text>
<text><textPath href="#bw41" startOffset="50%">relate</textPath></text>
<text><textPath href="#bw42" startOffset="50%">relate</textPath></text>
<text><textPath href="#bw43" startOffset="50%">relate</textPath></text>
<text><textPath href="#bw44" startOffset="50%">relate</textPath></text>
<text><textPath href="#bw45" startOffset="50%">relate</textPath></text>
<text><textPath href="#bw46" startOffset="50%">relate</textPath></text>
<text><textPath href="#bw47" startOffset="50%">relate</textPath></text>
<text><textPath href="#bw48" startOffset="50%">relate</textPath></text>
<text><textPath href="#bw49" startOffset="50%">relate</textPath></text>
<text><textPath href="#bw50" startOffset="50%">relate</textPath></text>
<text><textPath href="#bw51" startOffset="50%">relate</textPath></text>
<text><textPath href="#bw52" startOffset="50%">relate</textPath></text>
<text><textPath href="#bw53" startOffset="50%">relate</textPath></text>
<text><textPath href="#bw54" startOffset="50%">relate</textPath></text>
<text><textPath href="#bw55" startOffset="50%">relate</textPath></text>
<text><textPath href="#bw56" startOffset="50%">relate</textPath></text>
<text><textPath href="#bw57" startOffset="50%">relate</textPath></text>
<text><textPath href="#bw58" startOffset="50%">relate</textPath></text>
<text><textPath href="#bw59" startOffset="50%">relate</textPath></text>
<text><textPath href="#bw60" startOffset="50%">relate</textPath></text>
<text><textPath href="#bw61" startOffset="50%">relate</textPath></text>
<text><textPath href="#bw62" startOffset="50%">relate</textPath></text>
<text><textPath href="#bw63" startOffset="50%">relate</textPath></text>
<text><textPath href="#bw64" startOffset="50%">relate</textPath></text>
<text><textPath href="#bw65" startOffset="50%">relate</textPath></text>
<text><textPath href="#bw66" startOffset="50%">relate</textPath></text>
<text><textPath href="#nu1" startOffset="50%">relate</textPath></text>
<text><textPath href="#nu2" startOffset="50%">relate</textPath></text>
<text><textPath href="#nu3" startOffset="50%">relate</textPath></text>
<text><textPath href="#nu4" startOffset="50%">relate</textPath></text>
<text><textPath href="#nu5" startOffset="50%">relate</textPath></text>
<text><textPath href="#nu6" startOffset="50%">relate</textPath></text>
<text><textPath href="#nu7" startOffset="50%">relate</textPath></text>
<text><textPath href="#nu8" startOffset="50%">relate</textPath></text>
<text><textPath href="#nu9" startOffset="50%">relate</textPath></text>
<text><textPath href="#nu10" startOffset="50%">relate</textPath></text>
<text><textPath href="#nu11" startOffset="50%">relate</textPath></text>
<text><textPath href="#nu12" startOffset="50%">relate</textPath></text>
<text><textPath href="#nu13" startOffset="50%">relate</textPath></text>
<text><textPath href="#nu14" startOffset="50%">relate</textPath></text>
<text><textPath href="#nu15" startOffset="50%">relate</textPath></text>
<text><textPath href="#nu16" startOffset="50%">relate</textPath></text>
<text><textPath href="#nu17" startOffset="50%">relate</textPath></text>
<text><textPath href="#nu18" startOffset="50%">relate</textPath></text>
<text><textPath href="#nu19" startOffset="50%">relate</textPath></text>
<text><textPath href="#nu20" startOffset="50%">relate</textPath></text>
<text><textPath href="#nu21" startOffset="50%">relate</textPath></text>
<text><textPath href="#nu22" startOffset="50%">relate</textPath></text>
<text><textPath href="#nu23" startOffset="50%">relate</textPath></text>
<text><textPath href="#nu24" startOffset="50%">relate</textPath></text>
<text><textPath href="#nu25" startOffset="50%">relate</textPath></text>
<text><textPath href="#nu26" startOffset="50%">relate</textPath></text>
<text><textPath href="#nu27" startOffset="50%">relate</textPath></text>
<text><textPath href="#nu28" startOffset="50%">relate</textPath></text>
<text><textPath href="#nu29" startOffset="50%">relate</textPath></text>
<text><textPath href="#nu30" startOffset="50%">relate</textPath></text>
<text><textPath href="#nu31" startOffset="50%">relate</textPath></text>
<text><textPath href="#nu32" startOffset="50%">relate</textPath></text>
<text><textPath href="#nu33" startOffset="50%">relate</textPath></text>
<text><textPath href="#nu34" startOffset="50%">relate</textPath></text>
<text><textPath href="#nu35" startOffset="50%">relate</textPath></text>
<text><textPath href="#nu36" startOffset="50%">relate</textPath></text>
<text><textPath href="#nu37" startOffset="50%">relate</textPath></text>
<text><textPath href="#nu38" startOffset="50%">relate</textPath></text>
<text><textPath href="#nu39" startOffset="50%">relate</textPath></text>
<text><textPath href="#nu40" startOffset="50%">relate</textPath></text>
<text><textPath href="#nu41" startOffset="50%">relate</textPath></text>
<text><textPath href="#nu42" startOffset="50%">relate</textPath></text>
<text><textPath href="#nu43" startOffset="50%">relate</textPath></text>
<text><textPath href="#nu44" startOffset="50%">relate</textPath></text>
<text><textPath href="#nu45" startOffset="50%">relate</textPath></text>
<text><textPath href="#nw1" startOffset="50%">relate</textPath></text>
<text><textPath href="#nw2" startOffset="50%">relate</textPath></text>
<text><textPath href="#nw3" startOffset="50%">relate</textPath></text>
<text><textPath href="#nw4" startOffset="50%">relate</textPath></text>
<text><textPath href="#nw5" startOffset="50%">relate</textPath></text>
<text><textPath href="#nw6" startOffset="50%">relate</textPath></text>
<text><textPath href="#nw7" startOffset="50%">relate</textPath></text>
<text><textPath href="#nw8" startOffset="50%">relate</textPath></text>
<text><textPath href="#nw9" startOffset="50%">relate</textPath></text>
<text><textPath href="#nw10" startOffset="50%">relate</textPath></text>
<text><textPath href="#nw11" startOffset="50%">relate</textPath></text>
<text><textPath href="#nw12" startOffset="50%">relate</textPath></text>
<text><textPath href="#nw13" startOffset="50%">relate</textPath></text>
<text><textPath href="#nw14" startOffset="50%">relate</textPath></text>
<text><textPath href="#nw15" startOffset="50%">relate</textPath></text>
<text><textPath href="#nw16" startOffset="50%">relate</textPath></text>
<text><textPath href="#nw17" startOffset="50%">relate</textPath></text>
<text><textPath href="#nw18" startOffset="50%">relate</textPath></text>
<text><textPath href="#nw19" startOffset="50%">relate</textPath></text>
<text><textPath href="#nw20" startOffset="50%">relate</textPath></text>
<text><textPath href="#nw21" startOffset="50%">relate</textPath></text>
<text><textPath href="#nw22" startOffset="50%">relate</textPath></text>
<text><textPath href="#nw23" startOffset="50%">relate</textPath></text>
<text><textPath href="#nw24" startOffset="50%">relate</textPath></text>
<text><textPath href="#nw25" startOffset="50%">relate</textPath></text>
<text><textPath href="#nw26" startOffset="50%">relate</textPath></text>
<text><textPath href="#nw27" startOffset="50%">relate</textPath></text>
<text><textPath href="#nw28" startOffset="50%">relate</textPath></text>
<text><textPath href="#nw29" startOffset="50%">relate</textPath></text>
<text><textPath href="#nw30" startOffset="50%">relate</textPath></text>
<text><textPath href="#nw31" startOffset="50%">relate</textPath></text>
<text><textPath href="#nw32" startOffset="50%">relate</textPath></text>
<text><textPath href="#nw33" startOffset="50%">relate</textPath></text>
<text><textPath href="#nw34" startOffset="50%">relate</textPath></text>
<text><textPath href="#nw35" startOffset="50%">relate</textPath></text>
<text><textPath href="#nw36" startOffset="50%">relate</textPath></text>
<text><textPath href="#nw37" startOffset="50%">relate</textPath></text>
<text><textPath href="#nw38" startOffset="50%">relate</textPath></text>
<text><textPath href="#nw39" startOffset="50%">relate</textPath></text>
<text><textPath href="#nw40" startOffset="50%">relate</textPath></text>
<text><textPath href="#nw41" startOffset="50%">relate</textPath></text>
<text><textPath href="#nw42" startOffset="50%">relate</textPath></text>
<text><textPath href="#nw43" startOffset="50%">relate</textPath></text>
<text><textPath href="#nw44" startOffset="50%">relate</textPath></text>
<text><textPath href="#nw45" startOffset="50%">relate</textPath></text>
<text><textPath href="#au1" startOffset="50%">relate</textPath></text>
<text><textPath href="#au2" startOffset="50%">relate</textPath></text>
<text><textPath href="#au3" startOffset="50%">relate</textPath></text>
<text><textPath href="#au4" startOffset="50%">relate</textPath></text>
<text><textPath href="#au5" startOffset="50%">relate</textPath></text>
<text><textPath href="#au6" startOffset="50%">relate</textPath></text>
<text><textPath href="#au7" startOffset="50%">relate</textPath></text>
<text><textPath href="#au8" startOffset="50%">relate</textPath></text>
<text><textPath href="#au9" startOffset="50%">relate</textPath></text>
<text><textPath href="#au10" startOffset="50%">relate</textPath></text>
<text><textPath href="#au11" startOffset="50%">relate</textPath></text>
<text><textPath href="#au12" startOffset="50%">relate</textPath></text>
<text><textPath href="#au13" startOffset="50%">relate</textPath></text>
<text><textPath href="#au14" startOffset="50%">relate</textPath></text>
<text><textPath href="#au15" startOffset="50%">relate</textPath></text>
<text><textPath href="#au16" startOffset="50%">relate</textPath></text>
<text><textPath href="#au17" startOffset="50%">relate</textPath></text>
<text><textPath href="#au18" startOffset="50%">relate</textPath></text>
<text><textPath href="#au19" startOffset="50%">relate</textPath></text>
<text><textPath href="#au20" startOffset="50%">relate</textPath></text>
<text><textPath href="#au21" startOffset="50%">relate</textPath></text>
<text><textPath href="#au22" startOffset="50%">relate</textPath></text>
<text><textPath href="#au23" startOffset="50%">relate</textPath></text>
<text><textPath href="#au24" startOffset="50%">relate</textPath></text>
<text><textPath href="#au25" startOffset="50%">relate</textPath></text>
<text><textPath href="#au26" startOffset="50%">relate</textPath></text>
<text><textPath href="#au27" startOffset="50%">relate</textPath></text>
<text><textPath href="#au28" startOffset="50%">relate</textPath></text>
<text><textPath href="#au29" startOffset="50%">relate</textPath></text>
<text><textPath href="#au30" startOffset="50%">relate</textPath></text>
<text><textPath href="#au31" startOffset="50%">relate</textPath></text>
<text><textPath href="#au32" startOffset="50%">relate</textPath></text>
<text><textPath href="#au33" startOffset="50%">relate</textPath></text>
<text><textPath href="#au34" startOffset="50%">relate</textPath></text>
<text><textPath href="#au35" startOffset="50%">relate</textPath></text>
<text><textPath href="#au36" startOffset="50%">relate</textPath></text>
<text><textPath href="#au37" startOffset="50%">relate</textPath></text>
<text><textPath href="#au38" startOffset="50%">relate</textPath></text>
<text><textPath href="#au39" startOffset="50%">relate</textPath></text>
<text><textPath href="#au40" startOffset="50%">relate</textPath></text>
<text><textPath href="#au41" startOffset="50%">relate</textPath></text>
<text><textPath href="#au42" startOffset="50%">relate</textPath></text>
<text><textPath href="#au43" startOffset="50%">relate</textPath></text>
<text><textPath href="#au44" startOffset="50%">relate</textPath></text>
<text><textPath href="#au45" startOffset="50%">relate</textPath></text>
<text><textPath href="#aw1" startOffset="50%">relate</textPath></text>
<text><textPath href="#aw2" startOffset="50%">relate</textPath></text>
<text><textPath href="#aw3" startOffset="50%">relate</textPath></text>
<text><textPath href="#aw4" startOffset="50%">relate</textPath></text>
<text><textPath href="#aw5" startOffset="50%">relate</textPath></text>
<text><textPath href="#aw6" startOffset="50%">relate</textPath></text>
<text><textPath href="#aw7" startOffset="50%">relate</textPath></text>
<text><textPath href="#aw8" startOffset="50%">relate</textPath></text>
<text><textPath href="#aw9" startOffset="50%">relate</textPath></text>
<text><textPath href="#aw10" startOffset="50%">relate</textPath></text>
<text><textPath href="#aw11" startOffset="50%">relate</textPath></text>
<text><textPath href="#aw12" startOffset="50%">relate</textPath></text>
<text><textPath href="#aw13" startOffset="50%">relate</textPath></text>
<text><textPath href="#aw14" startOffset="50%">relate</textPath></text>
<text><textPath href="#aw15" startOffset="50%">relate</textPath></text>
<text><textPath href="#aw16" startOffset="50%">relate</textPath></text>
<text><textPath href="#aw17" startOffset="50%">relate</textPath></text>
<text><textPath href="#aw18" startOffset="50%">relate</textPath></text>
<text><textPath href="#aw19" startOffset="50%">relate</textPath></text>
<text><textPath href="#aw20" startOffset="50%">relate</textPath></text>
<text><textPath href="#aw21" startOffset="50%">relate</textPath></text>
<text><textPath href="#aw22" startOffset="50%">relate</textPath></text>
<text><textPath href="#aw23" startOffset="50%">relate</textPath></text>
<text><textPath href="#aw24" startOffset="50%">relate</textPath></text>
<text><textPath href="#aw25" startOffset="50%">relate</textPath></text>
<text><textPath href="#aw26" startOffset="50%">relate</textPath></text>
<text><textPath href="#aw27" startOffset="50%">relate</textPath></text>
<text><textPath href="#aw28" startOffset="50%">relate</textPath></text>
<text><textPath href="#aw29" startOffset="50%">relate</textPath></text>
<text><textPath href="#aw30" startOffset="50%">relate</textPath></text>
<text><textPath href="#aw31" startOffset="50%">relate</textPath></text>
<text><textPath href="#aw32" startOffset="50%">relate</textPath></text>
<text><textPath href="#aw33" startOffset="50%">relate</textPath></text>
<text><textPath href="#aw34" startOffset="50%">relate</textPath></text>
<text><textPath href="#aw35" startOffset="50%">relate</textPath></text>
<text><textPath href="#aw36" startOffset="50%">relate</textPath></text>
<text><textPath href="#aw37" startOffset="50%">relate</textPath></text>
<text><textPath href="#aw38" startOffset="50%">relate</textPath></text>
<text><textPath href="#aw39" startOffset="50%">relate</textPath></text>
<text><textPath href="#aw40" startOffset="50%">relate</textPath></text>
<text><textPath href="#aw41" startOffset="50%">relate</textPath></text>
<text><textPath href="#aw42" startOffset="50%">relate</textPath></text>
<text><textPath href="#aw43" startOffset="50%">relate</textPath></text>
<text><textPath href="#aw44" startOffset="50%">relate</textPath></text>
<text><textPath href="#aw45" startOffset="50%">relate</textPath></text>
<text><textPath href="#du1" startOffset="50%">relate</textPath></text>
<text><textPath href="#du2" startOffset="50%">relate</textPath></text>
<text><textPath href="#du3" startOffset="50%">relate</textPath></text>
<text><textPath href="#du4" startOffset="50%">relate</textPath></text>
<text><textPath href="#du5" startOffset="50%">relate</textPath></text>
<text><textPath href="#du6" startOffset="50%">relate</textPath></text>
<text><textPath href="#du7" startOffset="50%">relate</textPath></text>
<text><textPath href="#du8" startOffset="50%">relate</textPath></text>
<text><textPath href="#du9" startOffset="50%">relate</textPath></text>
<text><textPath href="#du10" startOffset="50%">relate</textPath></text>
<text><textPath href="#du11" startOffset="50%">relate</textPath></text>
<text><textPath href="#du12" startOffset="50%">relate</textPath></text>
<text><textPath href="#du13" startOffset="50%">relate</textPath></text>
<text><textPath href="#du14" startOffset="50%">relate</textPath></text>
<text><textPath href="#du15" startOffset="50%">relate</textPath></text>
<text><textPath href="#du16" startOffset="50%">relate</textPath></text>
<text><textPath href="#du17" startOffset="50%">relate</textPath></text>
<text><textPath href="#du18" startOffset="50%">relate</textPath></text>
<text><textPath href="#du19" startOffset="50%">relate</textPath></text>
<text><textPath href="#du20" startOffset="50%">relate</textPath></text>
<text><textPath href="#du21" startOffset="50%">relate</textPath></text>
<text><textPath href="#du22" startOffset="50%">relate</textPath></text>
<text><textPath href="#du23" startOffset="50%">relate</textPath></text>
<text><textPath href="#du24" startOffset="50%">relate</textPath></text>
<text><textPath href="#du25" startOffset="50%">relate</textPath></text>
<text><textPath href="#du26" startOffset="50%">relate</textPath></text>
<text><textPath href="#du27" startOffset="50%">relate</textPath></text>
<text><textPath href="#du28" startOffset="50%">relate</textPath></text>
<text><textPath href="#du29" startOffset="50%">relate</textPath></text>
<text><textPath href="#du30" startOffset="50%">relate</textPath></text>
<text><textPath href="#du31" startOffset="50%">relate</textPath></text>
<text><textPath href="#du32" startOffset="50%">rel...</textPath></text>
<text><textPath href="#du33" startOffset="50%">relate</textPath></text>
<text><textPath href="#du34" startOffset="50%">relate</textPath></text>
<text><textPath href="#du35" startOffset="50%">relate</textPath></text>
<text><textPath href="#du36" startOffset="50%">relate</textPath></text>
<text><textPath href="#du37" startOffset="50%">relate</textPath></text>
<text><textPath href="#du38" startOffset="50%">relate</textPath></text>
<text><textPath href="#du39" startOffset="50%">relate</textPath></text>
<text><textPath href="#du40" startOffset="50%">relate</textPath></text>
<text><textPath href="#du41" startOffset="50%">relate</textPath></text>
<text><textPath href="#du42" startOffset="50%">relate</textPath></text>
<text><textPath href="#du43" startOffset="50%">relate</textPath></text>
<text><textPath href="#du44" startOffset="50%">relate</textPath></text>
<text><textPath href="#du45" startOffset="50%">relate</textPath></text>
<text><textPath href="#du46" startOffset="50%">relate</textPath></text>
<text><textPath href="#du47" startOffset="50%">relate</textPath></text>
<text><textPath href="#du48" startOffset="50%">rel...</textPath></text>
<text><textPath href="#du49" startOffset="50%">relate</textPath></text>
<text><textPath href="#du50" startOffset="50%">relate</textPath></text>
<text><textPath href="#du51" startOffset="50%">relate</textPath></text>
<text><textPath href="#du52" startOffset="50%">relate</textPath></text>
<text><textPath href="#du53" startOffset="50%">relate</textPath></text>
<text><textPath href="#du54" startOffset="50%">relate</textPath></text>
<text><textPath href="#du55" startOffset="50%">relate</textPath></text>
<text><textPath href="#du56" startOffset="50%">relate</textPath></text>
<text><textPath href="#du57" startOffset="50%">relate</textPath></text>
<text><textPath href="#du58" startOffset="50%">relate</textPath></text>
<text><textPath href="#du59" startOffset="50%">relate</textPath></text>
<text><textPath href="#du60" startOffset="50%">relate</textPath></text>
<text><textPath href="#du61" startOffset="50%">relate</textPath></text>
<text><textPath href="#du62" startOffset="50%">relate</textPath></text>
<text><textPath href="#du63" startOffset="50%">rela...</textPath></text>
<text><textPath href="#du64" startOffset="50%">rel...</textPath></text>
<text><textPath href="#du65" startOffset="50%">relate</textPath></text>
<text><textPath href="#du66" startOffset="50%">relate</textPath></text>
<text><textPath href="#dw1" startOffset="50%">relate</textPath></text>
<text><textPath href="#dw2" startOffset="50%">relate</textPath></text>
<text><textPath href="#dw3" startOffset="50%">relate</textPath></text>
<text><textPath href="#dw4" startOffset="50%">relate</textPath></text>
<text><textPath href="#dw5" startOffset="50%">relate</textPath></text>
<text><textPath href="#dw6" startOffset="50%">relate</textPath></text>
<text><textPath href="#dw7" startOffset="50%">relate</textPath></text>
<text><textPath href="#dw8" startOffset="50%">relate</textPath></text>
<text><textPath href="#dw9" startOffset="50%">relate</textPath></text>
<text><textPath href="#dw10" startOffset="50%">relate</textPath></text>
<text><textPath href="#dw11" startOffset="50%">relate</textPath></text>
<text><textPath href="#dw12" startOffset="50%">relate</textPath></text>
<text><textPath href="#dw13" startOffset="50%">relate</textPath></text>
<text><textPath href="#dw14" startOffset="50%">relate</textPath></text>
<text><textPath href="#dw15" startOffset="50%">relate</textPath></text>
<text><textPath href="#dw16" startOffset="50%">relate</textPath></text>
<text><textPath href="#dw17" startOffset="50%">relate</textPath></text>
<text><textPath href="#dw18" startOffset="50%">relate</textPath></text>
<text><textPath href="#dw19" startOffset="50%">relate</textPath></text>
<text><textPath href="#dw20" startOffset="50%">relate</textPath></text>
<text><textPath href="#dw21" startOffset="50%">relate</textPath></text>
<text><textPath href="#dw22" startOffset="50%">relate</textPath></text>
<text><textPath href="#dw23" startOffset="50%">relate</textPath></text>
<text><textPath href="#dw24" startOffset="50%">relate</textPath></text>
<text><textPath href="#dw25" startOffset="50%">relate</textPath></text>
<text><textPath href="#dw26" startOffset="50%">relate</textPath></text>
<text><textPath href="#dw27" startOffset="50%">relate</textPath></text>
<text><textPath href="#dw28" startOffset="50%">relate</textPath></text>
<text><textPath href="#dw29" startOffset="50%">relate</textPath></text>
<text><textPath href="#dw30" startOffset="50%">relate</textPath></text>
<text><textPath href="#dw31" startOffset="50%">relate</textPath></text>
<text><textPath href="#dw32" startOffset="50%">rel...</textPath></text>
<text><textPath href="#dw33" startOffset="50%">relate</textPath></text>
<text><textPath href="#dw34" startOffset="50%">relate</textPath></text>
<text><textPath href="#dw35" startOffset="50%">relate</textPath></text>
<text><textPath href="#dw36" startOffset="50%">relate</textPath></text>
<text><textPath href="#dw37" startOffset="50%">relate</textPath></text>
<text><textPath href="#dw38" startOffset="50%">relate</textPath></text>
<text><textPath href="#dw39" startOffset="50%">relate</textPath></text>
<text><textPath href="#dw40" startOffset="50%">relate</textPath></text>
<text><textPath href="#dw41" startOffset="50%">relate</textPath></text>
<text><textPath href="#dw42" startOffset="50%">relate</textPath></text>
<text><textPath href="#dw43" startOffset="50%">relate</textPath></text>
<text><textPath href="#dw44" startOffset="50%">relate</textPath></text>
<text><textPath href="#dw45" startOffset="50%">relate</textPath></text>
<text><textPath href="#dw46" startOffset="50%">relate</textPath></text>
<text><textPath href="#dw47" startOffset="50%">relate</textPath></text>
<text><textPath href="#dw48" startOffset="50%">rel...</textPath></text>
<text><textPath href="#dw49" startOffset="50%">relate</textPath></text>
<text><textPath href="#dw50" startOffset="50%">relate</textPath></text>
<text><textPath href="#dw51" startOffset="50%">relate</textPath></text>
<text><textPath href="#dw52" startOffset="50%">relate</textPath></text>
<text><textPath href="#dw53" startOffset="50%">relate</textPath></text>
<text><textPath href="#dw54" startOffset="50%">relate</textPath></text>
<text><textPath href="#dw55" startOffset="50%">relate</textPath></text>
<text><textPath href="#dw56" startOffset="50%">relate</textPath></text>
<text><textPath href="#dw57" startOffset="50%">relate</textPath></text>
<text><textPath href="#dw58" startOffset="50%">relate</textPath></text>
<text><textPath href="#dw59" startOffset="50%">relate</textPath></text>
<text><textPath href="#dw60" startOffset="50%">relate</textPath></text>
<text><textPath href="#dw61" startOffset="50%">relate</textPath></text>
<text><textPath href="#dw62" startOffset="50%">relate</textPath></text>
<text><textPath href="#dw63" startOffset="50%">rel...</textPath></text>
<text><textPath href="#dw64" startOffset="50%">rel...</textPath></text>
<text><textPath href="#dw65" startOffset="50%">relate</textPath></text>
<text><textPath href="#dw66" startOffset="50%">relate</textPath></text>
<text><textPath href="#su1" startOffset="50%">relate</textPath></text>
<text><textPath href="#su2" startOffset="50%">relate</textPath></text>
<text><textPath href="#su3" startOffset="50%">relate</textPath></text>
<text><textPath href="#su4" startOffset="50%">relate</textPath></text>
<text><textPath href="#su5" startOffset="50%">relate</textPath></text>
<text><textPath href="#su6" startOffset="50%">relate</textPath></text>
<text><textPath href="#su7" startOffset="50%">relate</textPath></text>
<text><textPath href="#su8" startOffset="50%">relate</textPath></text>
<text><textPath href="#su9" startOffset="50%">relate</textPath></text>
<text><textPath href="#su10" startOffset="50%">relate</textPath></text>
<text><textPath href="#sw1" startOffset="50%">relate</textPath></text>
<text><textPath href="#sw2" startOffset="50%">relate</textPath></text>
<text><textPath href="#sw3" startOffset="50%">relate</textPath></text>
<text><textPath href="#sw4" startOffset="50%">relate</textPath></text>
<text><textPath href="#sw5" startOffset="50%">relate</textPath></text>
<text><textPath href="#sw6" startOffset="50%">relate</textPath></text>
<text><textPath href="#sw7" startOffset="50%">relate</textPath></text>
<text><textPath href="#sw8" startOffset="50%">relate</textPath></text>
<text><textPath href="#sw9" startOffset="50%">relate</textPath></text>
<text><textPath href="#sw10" startOffset="50%">relate</textPath></text>
<text><textPath href="#t1" startOffset="50%">relate</textPath></text>
<text><textPath href="#t2" startOffset="50%">relate</textPath></text>
<text><textPath href="#t3" startOffset="50%">relate</textPath></text>
<text><textPath href="#t4" startOffset="50%">relate</textPath></text>
<text><textPath href="#t5" startOffset="50%">relate</textPath></text>
<text><textPath href="#t6" startOffset="50%">relate</textPath></text>
<text><textPath href="#t7" startOffset="50%">relate</textPath></text>
<text><textPath href="#t8" startOffset="50%">relate</textPath></text>
<text><textPath href="#t9" startOffset="50%">relate</textPath></text>
<text><textPath href="#t10" startOffset="50%">relate</textPath></text>
<text><textPath href="#t11" startOffset="50%">relate</textPath></text>
<text><textPath href="#t12" startOffset="50%">relate</textPath></text>
<text><textPath href="#t13" startOffset="50%">r...</textPath></text>
<text><textPath href="#t14" startOffset="50%">relate</textPath></text>
<text><textPath href="#t15" startOffset="50%">relate</textPath></text>
<text><textPath href="#t16" startOffset="50%">relate</textPath></text>
<text><textPath href="#t17" startOffset="50%">relate</textPath></text>
<text><textPath href="#t18" startOffset="50%">relate</textPath></text>
<text><textPath href="#t19" startOffset="50%">relate</textPath></text>
<text><textPath href="#t20" startOffset="50%">relate</textPath></text>
<text><textPath href="#t21" startOffset="50%">relate</textPath></text>
<text><textPath href="#t22" startOffset="50%">relate</textPath></text>
<text><textPath href="#t23" startOffset="50%">relate</textPath></text>
<text><textPath href="#t24" startOffset="50%">relate</textPath></text>
<text><textPath href="#t25" startOffset="50%">relate</textPath></text>
<text><textPath href="#t26" startOffset="50%">relate</textPath></text>
<text><textPath href="#t27" startOffset="50%">relate</textPath></text>
<text><textPath href="#t28" startOffset="50%">relate</textPath></text>
<text><textPath href="#t29" startOffset="50%">relate</textPath></text>
<text><textPath href="#t30" startOffset="50%">relate</textPath></text>
<text><textPath href="#t31" startOffset="50%">relate</textPath></text>
<text><textPath href="#t32" startOffset="50%">relate</textPath></text>
<text><textPath href="#t33" startOffset="50%">relate</textPath></text>
<text><textPath href="#t34" startOffset="50%">relate</textPath></text>
<text><textPath href="#t35" startOffset="50%">relate</textPath></text>
<text><textPath href="#t36" startOffset="50%">relate</textPath></text>
<text><textPath href="#t37" startOffset="50%">relate</textPath></text>
<text><textPath href="#t38" startOffset="50%">relate</textPath></text>
<text><textPath href="#t39" startOffset="50%">relate</textPath></text>
<text><textPath href="#t40" startOffset="50%">relate</textPath></text>
<text><textPath href="#t41" startOffset="50%">relate</textPath></text>
<text><textPath href="#t42" startOffset="50%">relate</textPath></text>
<text><textPath href="#t43" startOffset="50%">relate</textPath></text>
<text><textPath href="#t44" startOffset="50%">relate</textPath></text>
<text><textPath href="#t45" startOffset="50%">relate</textPath></text>
<text><textPath href="#t46" startOffset="50%">relate</textPath></text>
<text><textPath href="#t47" startOffset="50%">relate</textPath></text>
<text><textPath href="#t48" startOffset="50%">relate</textPath></text>
<text><textPath href="#t49" startOffset="50%">relate</textPath></text>
<text><textPath href="#t50" startOffset="50%">relate</textPath></text>
<text><textPath href="#t51" startOffset="50%">relate</textPath></text>
<text><textPath href="#t52" startOffset="50%">relate</textPath></text>
<text><textPath href="#t53" startOffset="50%">relate</textPath></text>
<text><textPath href="#t54" startOffset="50%">relate</textPath></text>
<text><textPath href="#t55" startOffset="50%">relate</textPath></text>
<text><textPath href="#t56" startOffset="50%">relate</textPath></text>
<text><textPath href="#t57" startOffset="50%">relate</textPath></text>
<text><textPath href="#t58" startOffset="50%">relate</textPath></text>
<text><textPath href="#t59" startOffset="50%">relate</textPath></text>
<text><textPath href="#t60" startOffset="50%">relate</textPath></text>
<text><textPath href="#t61" startOffset="50%">relate</textPath></text>
<text><textPath href="#t62" startOffset="50%">relate</textPath></text>
<text><textPath href="#t63" startOffset="50%">relate</textPath></text>
<text><textPath href="#t64" startOffset="50%">relate</textPath></text>
<text><textPath href="#t65" startOffset="50%">relate</textPath></text>
<text><textPath href="#t66" startOffset="50%">relate</textPath></text>
<text><textPath href="#t67" startOffset="50%">relate</textPath></text>
<text><textPath href="#t68" startOffset="50%">relate</textPath></text>
<text><textPath href="#t69" startOffset="50%">relate</textPath></text>
<text><textPath href="#t70" startOffset="50%">relate</textPath></text>
<text><textPath href="#t71" startOffset="50%">relate</textPath></text>
<text><textPath href="#t72" startOffset="50%">relate</textPath></text>
<text><textPath href="#t73" startOffset="50%">relate</textPath></text>
<text><textPath href="#t74" startOffset="50%">relate</textPath></text>
<text><textPath href="#t75" startOffset="50%">relate</textPath></text>
<text><textPath href="#t76" startOffset="50%">relate</textPath></text>
<text><textPath href="#t77" startOffset="50%">relate</textPath></text>
<text><textPath href="#t78" startOffset="50%">relate</textPath></text>
</g>
</g>
<g id="nodes">
<g id="unknow1" class="n u"><circle cx="139" cy="48" r="43"/><text x="139" y="48">unknow</text></g>
<g id="unknow2" class="n u"><circle cx="335" cy="44" r="43"/><text x="335" y="44">unknow</text></g>
<g id="unknow3" class="n u"><circle cx="624" cy="57" r="43"/><text x="624" y="57">unknow</text></g>
<g id="unknow4" class="n u"><circle cx="831" cy="64" r="43"/><text x="831" y="64">unknow</text></g>
<g id="unknow5" class="n u"><circle cx="1031" cy="57" r="43"/><text x="1031" y="57">unknow</text></g>
<g id="unknow6" class="n u"><circle cx="1260" cy="96" r="43"/><text x="1260" y="96">unknow</text></g>
<g id="unknow7" class="n u"><circle cx="1483" cy="73" r="43"/><text x="1483" y="73">unknow</text></g>
<g id="unknow8" class="n u"><circle cx="1679" cy="113" r="43"/><text x="1679" y="113">unknow</text></g>
<g id="unknow9" class="n u"><circle cx="129" cy="249" r="43"/><text x="129" y="249">unknow</text></g>
<g id="unknow10" class="n u"><circle cx="84" cy="439" r="43"/><text x="84" y="439">unknow</text></g>
<g id="unknow11" class="n u"><circle cx="1820" cy="286" r="43"/><text x="1820" y="286">unknow</text></g>
<g id="unknow12" class="n u"><circle cx="1883" cy="558" r="43"/><text x="1883" y="558">unknow</text></g>
<g id="unknow13" class="n u"><circle cx="199" cy="624" r="43"/><text x="199" y="624">unknow</text></g>
<g id="unknow14" class="n u"><circle cx="520" cy="633" r="43"/><text x="520" y="633">unknow</text></g>
<g id="unknow15" class="n u"><circle cx="43" cy="704" r="43"/><text x="43" y="704">unknow</text></g>
<g id="unknow16" class="n u"><circle cx="828" cy="669" r="43"/><text x="828" y="669">unknow</text></g>
<g id="unknow17" class="n u"><circle cx="1073" cy="693" r="43"/><text x="1073" y="693">unknow</text></g>
<g id="unknow18" class="n u"><circle cx="1711" cy="735" r="43"/><text x="1711" y="735">unknow</text></g>
<g id="unknow19" class="n u"><circle cx="1874" cy="860" r="43"/><text x="1874" y="860">unknow</text></g>
<g id="unknow20" class="n u"><circle cx="73" cy="918" r="43"/><text x="73" y="918">unknow</text></g>
<g id="unknow21" class="n u"><circle cx="1836" cy="1036" r="43"/><text x="1836" y="1036">unknow</text></g>
<g id="unknow22" class="n u"><circle cx="140" cy="1141" r="43"/><text x="140" y="1141">unknow</text></g>
<g id="unknow23" class="n u"><circle cx="563" cy="1197" r="43"/><text x="563" y="1197">unknow</text></g>
<g id="unknow24" class="n u"><circle cx="350" cy="1243" r="43"/><text x="350" y="1243">unknow</text></g>
<g id="unknow25" class="n u"><circle cx="788" cy="1193" r="43"/><text x="788" y="1193">unknow</text></g>
<g id="unknow26" class="n u"><circle cx="1056" cy="1171" r="43"/><text x="1056" y="1171">unknow</text></g>
<g id="unknow27" class="n u"><circle cx="1788" cy="1190" r="43"/><text x="1788" y="1190">unknow</text></g>
<g id="unknow28" class="n u"><circle cx="1462" cy="1274" r="43"/><text x="1462" y="1274">unknow</text></g>
<g id="benign1" class="n g"><circle cx="296" cy="155" r="43"/><text x="296" y="155">Benign</text></g>
<g id="benign2" class="n g"><circle cx="495" cy="165" r="43"/><text x="495" y="165">Benign</text></g>
<g id="benign3" class="n g"><circle cx="647" cy="217" r="43"/><text x="647" y="217">Benign</text></g>
<g id="benign4" class="n g"><circle cx="406" cy="283" r="43"/><text x="406" y="283">Benign</text></g>
<g id="benign5" class="n g"><circle cx="565" cy="323" r="43"/><text x="565" y="323">Benign</text></g>
<g id="benign6" class="n g"><circle cx="243" cy="397" r="43"/><text x="243" y="397">Benign</text></g>
<g id="benign7" class="n g"><circle cx="378" cy="405" r="43"/><text x="378" y="405">Benign</text></g>
<g id="benign8" class="n g"><circle cx="503" cy="395" r="43"/><text x="503" y="395">Benign</text></g>
<g id="benign9" class="n g"><circle cx="638" cy="411" r="43"/><text x="638" y="411">Benign</text></g>
<g id="benign10" class="n g"><circle cx="474" cy="512" r="43"/><text x="474" y="512">Benign</text></g>
<g id="benign11" class="n g"><circle cx="291" cy="553" r="43"/><text x="291" y="553">Benign</text></g>
<g id="benign12" class="n g"><circle cx="611" cy="553" r="43"/><text x="611" y="553">Benign</text></g>
<g id="network1" class="n k"><circle cx="876" cy="221" r="43"/><text x="876" y="221">Network</text></g>
<g id="network2" class="n k"><circle cx="1078" cy="217" r="43"/><text x="1078" y="217">Network</text></g>
<g id="network3" class="n k"><circle cx="979" cy="307" r="43"/><text x="979" y="307">Network</text></g>
<g id="network4" class="n k"><circle cx="1171" cy="323" r="43"/><text x="1171" y="323">Network</text></g>
<g id="network5" class="n k"><circle cx="789" cy="398" r="43"/><text x="789" y="398">Network</text></g>
<g id="network6" class="n k"><circle cx="917" cy="420" r="43"/><text x="917" y="420">Network</text></g>
<g id="network7" class="n k"><circle cx="1130" cy="439" r="43"/><text x="1130" y="439">Network</text></g>
<g id="network8" class="n k"><circle cx="809" cy="557" r="43"/><text x="809" y="557">Network</text></g>
<g id="network9" class="n k"><circle cx="946" cy="542" r="43"/><text x="946" y="542">Network</text></g>
<g id="network10" class="n k"><circle cx="1106" cy="595" r="43"/><text x="1106" y="595">Network</text></g>
<g id="application1" class="n a"><circle cx="1303" cy="252" r="43"/><text x="1303" y="252">Application</text></g>
<g id="application2" class="n a"><circle cx="1447" cy="273" r="43"/><text x="1447" y="273">Application</text></g>
<g id="application3" class="n a"><circle cx="1584" cy="210" r="43"/><text x="1584" y="210">Application</text></g>
<g id="application4" class="n a"><circle cx="1547" cy="396" r="43"/><text x="1547" y="396">Application</text></g>
<g id="application5" class="n a"><circle cx="1290" cy="448" r="43"/><text x="1290" y="448">Application</text></g>
<g id="application6" class="n a"><circle cx="1457" cy="441" r="43"/><text x="1457" y="441">Application</text></g>
<g id="application7" class="n a"><circle cx="1668" cy="435" r="43"/><text x="1668" y="435">Application</text></g>
<g id="application8" class="n a"><circle cx="1239" cy="573" r="43"/><text x="1239" y="573">Application</text></g>
<g id="application9" class="n a"><circle cx="1700" cy="571" r="43"/><text x="1700" y="571">Application</text></g>
<g id="application10" class="n a"><circle cx="1493" cy="648" r="43"/><text x="1493" y="648">Application</text></g>
<g id="drdos1" class="n y"><circle cx="171" cy="746" r="43"/><text x="171" y="746">DrDoS</text></g>
<g id="drdos2" class="n y"><circle cx="444" cy="720" r="43"/><text x="444" y="720">DrDoS</text></g>
<g id="drdos3" class="n y"><circle cx="595" cy="736" r="43"/><text x="595" y="736">DrDoS</text></g>
<g id="drdos4" class="n y"><circle cx="368" cy="815" r="43"/><text x="368" y="815">DrDoS</text></g>
<g id="drdos5" class="n y"><circle cx="522" cy="867" r="43"/><text x="522" y="867">DrDoS</text></g>
<g id="drdos6" class="n y"><circle cx="297" cy="906" r="43"/><text x="297" y="906">DrDoS</text></g>
<g id="drdos7" class="n y"><circle cx="640" cy="917" r="43"/><text x="640" y="917">DrDoS</text></g>
<g id="drdos8" class="n y"><circle cx="192" cy="967" r="43"/><text x="192" y="967">DrDoS</text></g>
<g id="drdos9" class="n y"><circle cx="324" cy="1006" r="43"/><text x="324" y="1006">DrDoS</text></g>
<g id="drdos10" class="n y"><circle cx="489" cy="1035" r="43"/><text x="489" y="1035">DrDoS</text></g>
<g id="drdos11" class="n y"><circle cx="605" cy="1030" r="43"/><text x="605" y="1030">DrDoS</text></g>
<g id="drdos12" class="n y"><circle cx="339" cy="1124" r="43"/><text x="339" y="1124">DrDoS</text></g>
<g id="slowddos1" class="n s"><circle cx="796" cy="783" r="43"/><text x="796" y="783">SlowDDoS</text></g>
<g id="slowddos2" class="n s"><circle cx="984" cy="807" r="43"/><text x="984" y="807">SlowDDoS</text></g>
<g id="slowddos3" class="n s"><circle cx="766" cy="920" r="43"/><text x="766" y="920">SlowDDoS</text></g>
<g id="slowddos4" class="n s"><circle cx="839" cy="1027" r="43"/><text x="839" y="1027">SlowDDoS</text></g>
<g id="slowddos5" class="n s"><circle cx="996" cy="1010" r="43"/><text x="996" y="1010">SlowDDoS</text></g>
<g id="botnet1" class="n t"><circle cx="1196" cy="767" r="43"/><text x="1196" y="767">Botnet</text></g>
<g id="botnet2" class="n t"><circle cx="1390" cy="784" r="43"/><text x="1390" y="784">Botnet</text></g>
<g id="botnet3" class="n t"><circle cx="1493" cy="743" r="43"/><text x="1493" y="743">Botnet</text></g>
<g id="botnet4" class="n t"><circle cx="1459" cy="906" r="43"/><text x="1459" y="906">Botnet</text></g>
<g id="botnet5" class="n t"><circle cx="1330" cy="966" r="43"/><text x="1330" y="966">Botnet</text></g>
<g id="botnet6" class="n t"><circle cx="1706" cy="944" r="43"/><text x="1706" y="944">Botnet</text></g>
<g id="botnet7" class="n t"><circle cx="1185" cy="1004" r="43"/><text x="1185" y="1004">Botnet</text></g>
<g id="botnet8" class="n t"><circle cx="1589" cy="1013" r="43"/><text x="1589" y="1013">Botnet</text></g>
<g id="botnet9" class="n t"><circle cx="1415" cy="1062" r="43"/><text x="1415" y="1062">Botnet</text></g>
<g id="botnet10" class="n t"><circle cx="1535" cy="1115" r="43"/><text x="1535" y="1115">Botnet</text></g>
<g id="botnet11" class="n t"><circle cx="1198" cy="1140" r="43"/><text x="1198" y="1140">Botnet</text></g>
<g id="botnet12" class="n t"><circle cx="1315" cy="1196" r="43"/><text x="1315" y="1196">Botnet</text></g>
<g id="botnet13" class="n t"><circle cx="1642" cy="1213" r="43"/><text x="1642" y="1213">Botnet</text></g>
</g>
</svg>
